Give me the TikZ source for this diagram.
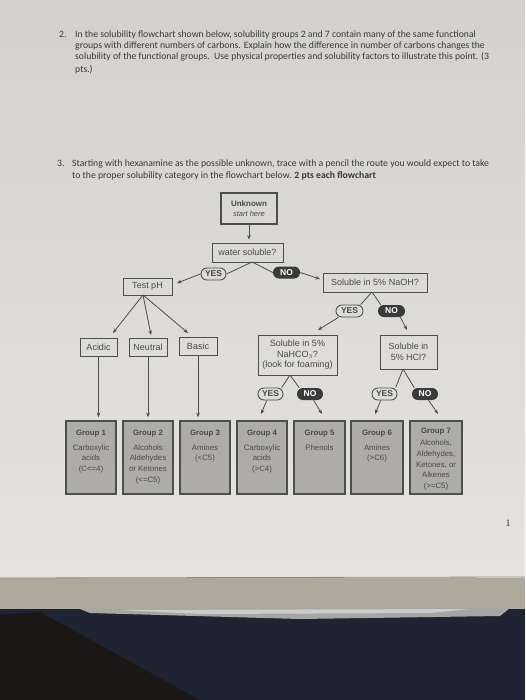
\documentclass[tikz,border=0pt]{standalone}
\usepackage{fontspec}
\setmainfont{Liberation Sans}
\newfontfamily\qfont{Carlito}
\newfontfamily\numfont{Liberation Serif}
\usetikzlibrary{arrows.meta,calc}
\definecolor{papertop}{HTML}{D3D1CE}
\definecolor{paperbot}{HTML}{E4E3E0}
\definecolor{ln}{HTML}{4E4E4E}
\definecolor{tx}{HTML}{4A4A4A}
\definecolor{qtx}{HTML}{3A3A3A}
\definecolor{grpfill}{HTML}{AEACA9}
\definecolor{nofill}{HTML}{3A3A3A}
\definecolor{band}{HTML}{ADA99C}
\definecolor{cloth}{HTML}{1E2432}
\definecolor{clothdark}{HTML}{1A1716}
\begin{document}
\begin{tikzpicture}[x=1pt,y=-1pt,
  q/.style={font=\qfont\fontsize{9.7}{11}\selectfont, text=qtx, inner sep=0pt},
  fbox/.style={draw=ln, line width=0.9pt, inner sep=0pt, align=center, text=tx,
    font=\fontsize{9}{10.5}\selectfont},
  grp/.style={draw=ln, line width=1.6pt, fill=grpfill, minimum width=50pt,
    minimum height=73pt, inner sep=0pt},
  gtxt/.style={anchor=north, inner sep=0pt, align=center, text=tx,
    font=\fontsize{7.8}{10.7}\selectfont},
  yesov/.style={draw=ln, line width=0.9pt, rounded corners=5.9pt, minimum width=25pt,
    minimum height=12pt, inner sep=0pt, text=tx, font=\fontsize{8.5}{9}\selectfont\bfseries},
  noov/.style={fill=nofill, rounded corners=5.9pt, minimum width=27pt,
    minimum height=12pt, inner sep=0pt, text=white, font=\fontsize{8.5}{9}\selectfont\bfseries},
  con/.style={draw=ln, line width=0.8pt},
  arr/.style={con, -{Stealth[length=4.5pt,width=3.6pt]}}
]
\useasboundingbox (0,0) rectangle (525,700);
% background
\shade[top color=papertop, bottom color=paperbot] (0,0) rectangle (525,578);
\fill[band] (0,578) rectangle (525,609);
\draw[color=black!45, line width=0.8pt] (0,578) -- (525,577);
\fill[cloth] (0,609) rectangle (525,700);
\fill[clothdark] (0,615) -- (40,612) -- (200,700) -- (0,700) -- cycle;
\fill[black!35] (80,609) -- (510,608) -- (500,616) -- (300,619) -- (90,613) -- cycle;
\fill[black!20] (120,610) -- (470,609) -- (430,613) -- (200,614) -- cycle;

% question 2
\node[q, anchor=base west] (q2n) at (59,38) {2.};
\node[q, anchor=base west] (q2a) at (75,38) {In the solubility flowchart shown below, solubility groups 2 and 7 contain many of the same functional};
\node[q, anchor=base west] (q2b) at (75,49) {groups with different numbers of carbons. Explain how the difference in number of carbons changes the};
\node[q, anchor=base west] (q2c) at (75,60) {solubility of the functional groups.\ \ Use physical properties and solubility factors to illustrate this point. (3};
\node[q, anchor=base west] (q2d) at (75,73) {pts.)};
% question 3
\node[q, anchor=base west] (q3n) at (57,167) {3.};
\node[q, anchor=base west] (q3a) at (72,167) {Starting with hexanamine as the possible unknown, trace with a pencil the route you would expect to take};
\node[q, anchor=base west] (q3b) at (72,179) {to the proper solubility category in the flowchart below. \textbf{2 pts each flowchart}};

% flowchart boxes
\node[fbox, line width=1.8pt, minimum width=56pt, minimum height=31pt] (unknown) at (249,208.5)
  {{\fontsize{8}{9}\selectfont\bfseries Unknown}\\[-0.5pt]{\fontsize{7.5}{9}\selectfont\itshape start here}};
\node[fbox, minimum width=71pt, minimum height=19pt] (water) at (247.5,252.5) {water soluble?};
\node[fbox, minimum width=49pt, minimum height=17pt] (testph) at (147.5,286.5) {Test pH};
\node[fbox, minimum width=104pt, minimum height=19pt] (naoh) at (375,282.5) {Soluble in 5\% NaOH?};
\node[fbox, minimum width=37pt, minimum height=18pt] (acidic) at (98.5,347) {Acidic};
\node[fbox, minimum width=38pt, minimum height=18pt] (neutral) at (148,347) {Neutral};
\node[fbox, minimum width=38pt, minimum height=18pt] (basic) at (198,346) {Basic};
\node[fbox, minimum width=79pt, minimum height=40pt] (nahco) at (297.5,355)
  {Soluble in 5\%\\NaHCO$_3$?\\(look for foaming)};
\node[fbox, minimum width=57pt, minimum height=34pt] (hcl) at (408.5,352) {Soluble in\\5\% HCl?};

% ovals
\node[yesov] (yes1) at (213.5,274) {YES};
\node[noov] (no1) at (286.5,272.5) {NO};
\node[yesov, minimum width=27pt] (yes2) at (349.5,311) {YES};
\node[noov] (no2) at (391.5,311) {NO};
\node[yesov] (yes3) at (270.5,394) {YES};
\node[noov, minimum width=26pt] (no3) at (310,394) {NO};
\node[yesov] (yes4) at (384.5,394) {YES};
\node[noov, minimum width=26pt] (no4) at (425,394) {NO};

% groups
\node[grp] (g1) at (91,457.5) {};
\node[grp] (g2) at (148,457.5) {};
\node[grp] (g3) at (205,457.5) {};
\node[grp] (g4) at (262,457.5) {};
\node[grp, minimum width=51pt] (g5) at (319.5,457.5) {};
\node[grp, minimum width=52pt] (g6) at (377,457.5) {};
\node[grp, minimum width=52pt] (g7) at (436,457.5) {};
\node[gtxt] (g1t) at (91,430) {\textbf{Group 1}\\[3.8pt]Carboxylic\\acids\\(C<=4)};
\node[gtxt] (g2t) at (148,430) {\textbf{Group 2}\\[3.8pt]Alcohols\\Aldehydes\\or Ketones\\(<=C5)};
\node[gtxt] (g3t) at (205,430) {\textbf{Group 3}\\[3.8pt]Amines\\(<C5)};
\node[gtxt] (g4t) at (262,430) {\textbf{Group 4}\\[3.8pt]Carboxylic\\acids\\(>C4)};
\node[gtxt] (g5t) at (319.5,430) {\textbf{Group 5}\\[3.8pt]Phenols};
\node[gtxt] (g6t) at (377,430) {\textbf{Group 6}\\[3.8pt]Amines\\(>C6)};
\node[gtxt] (g7t) at (436,428) {\textbf{Group 7}\\[1.3pt]Alcohols,\\Aldehydes,\\Ketones, or\\Alkenes\\(>=C5)};

% page number
\node[font=\numfont\fontsize{10}{12}\selectfont, text=qtx] (pnum) at (508,523) {1};

% apex and tip coordinates
\coordinate (wapex) at (252,262);
\coordinate (tph) at (177,283);
\coordinate (tnaoh) at (320,279);
\coordinate (papex) at (143,295);
\coordinate (tacid) at (113,333);
\coordinate (tneut) at (151,335);
\coordinate (tbas) at (188,333);
\coordinate (napex) at (372,292);
\coordinate (tnahco) at (318,330);
\coordinate (thcl) at (407,330);
\coordinate (bapex) at (290,375);
\coordinate (t4) at (261,414);
\coordinate (t5) at (322,414);
\coordinate (hapex) at (403,369);
\coordinate (t6) at (375,414);
\coordinate (t7) at (438,414);

% connectors
\draw[arr, shorten >=3pt] (unknown.south) -- (unknown.south |- water.north);
\draw[con] (wapex) -- (yes1.east);
\draw[arr] (yes1.west) -- (tph);
\draw[con] (wapex) -- (no1.west);
\draw[arr] (no1.east) -- (tnaoh);
\draw[arr] (papex) -- (tacid);
\draw[arr] (papex) -- (tneut);
\draw[arr] (papex) -- (tbas);
\draw[arr, shorten >=3pt] (acidic.south) -- (acidic.south |- g1.north);
\draw[arr, shorten >=3pt] (neutral.south) -- (neutral.south |- g2.north);
\draw[arr, shorten >=3pt] (basic.south) -- (basic.south |- g3.north);
\draw[con] (napex) -- (yes2.30);
\draw[arr] (yes2.210) -- (tnahco);
\draw[con] (napex) -- (no2.150);
\draw[arr] (no2.-35) -- (thcl);
\draw[con] (bapex) -- (yes3.30);
\draw[arr] (yes3.240) -- (t4);
\draw[con] (bapex) -- (no3.150);
\draw[arr] (no3.-60) -- (t5);
\draw[con] (hapex) -- (yes4.30);
\draw[arr] (yes4.240) -- (t6);
\draw[con] (hapex) -- (no4.150);
\draw[arr] (no4.-60) -- (t7);
\end{tikzpicture}
\end{document}
